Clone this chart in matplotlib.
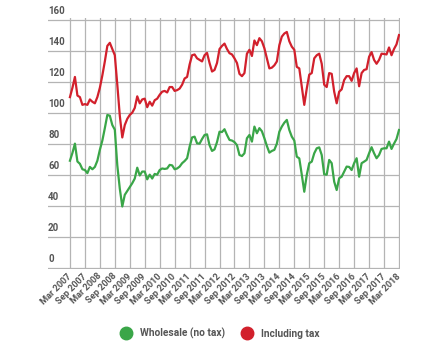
import numpy as np
import matplotlib.pyplot as plt
from matplotlib.lines import Line2D

plt.rcParams['font.family'] = ['Roboto', 'DejaVu Sans']

# monthly prices, Mar 2007 .. Mar 2018
including_tax = [110, 116, 123, 111, 110, 105, 105.5, 105, 108.5, 107, 106, 110,
                 116, 124, 133, 143, 145, 141, 137, 118, 98, 84, 92, 96,
                 98.5, 100, 103, 110.5, 106, 108.5, 109, 103.5, 107, 104.5, 108, 109,
                 111.5, 113.5, 114, 113, 116.5, 116.5, 114, 114.5, 115.5, 118, 122, 123,
                 131, 137, 137.5, 135, 134, 133, 137, 138.5, 132, 126.5, 127.5, 132,
                 141, 143, 144.5, 141, 138.3, 137.5, 135, 132, 125, 123.5, 125.5, 138,
                 140.5, 136.5, 146.5, 143.5, 148, 146, 141.5, 135, 128.5, 129, 130.5, 133,
                 143.5, 149, 151, 152, 146, 142.5, 140.5, 129.5, 128.5, 117, 105, 115.5,
                 124.5, 125.5, 135, 137, 138, 131.5, 118, 116.5, 125.5, 125, 113.5, 106,
                 113.5, 115, 121, 123.5, 123.5, 120.5, 125.5, 128.5, 117, 125.5, 127.5, 128,
                 136, 139, 134, 131.5, 134, 138, 137.8, 137.5, 142, 137, 141, 144, 150]

wholesale = [69, 74, 80, 68.5, 67, 63.5, 63, 61, 65, 63.5, 65, 69,
             76, 82, 90, 98.5, 98, 92, 89, 66, 51, 39.5, 47, 49.5,
             52, 54.5, 57.5, 64.5, 59.5, 62, 62, 57, 60, 57.5, 60.5, 60,
             63, 64, 63.7, 64, 66.3, 66, 63.5, 64, 65.2, 67.4, 68.8, 70.6,
             78, 84, 84.5, 80.2, 80, 83, 85.6, 86, 79, 75.3, 76.3, 81,
             87.7, 87.5, 89.3, 85.6, 82.4, 82, 81, 79, 72.7, 72, 73.8, 83.5,
             85.6, 81.3, 91, 86.7, 90, 88, 83.5, 78.5, 74.2, 75.3, 76, 80,
             87.7, 91, 93.5, 95.3, 88.8, 84.5, 82, 71.6, 70.5, 60, 49, 59.8,
             67.4, 68.4, 73.8, 77, 77.6, 72.7, 60.2, 60, 69.5, 67.4, 55.5, 50.1,
             57.7, 58.7, 62, 65.2, 65, 63, 67.4, 70.6, 58.7, 67.4, 68.4, 69.5,
             73.8, 77.7, 73.8, 70.6, 72.7, 76.6, 77, 77, 81.3, 76.6, 80, 83, 88.8]

tick_labels = ['Mar 2007', 'Sep 2007', 'Mar 2008', 'Sep 2008', 'Mar 2009', 'Sep 2009',
               'Mar 2010', 'Sep 2010', 'Mar 2011', 'Sep 2011', 'Mar 2012', 'Sep 2012',
               'Mar 2013', 'Sep 2013', 'Mar 2014', 'Sep 2014', 'Mar 2015', 'Sep 2015',
               'Mar 2016', 'Sep 2016', 'Mar 2017', 'Sep 2017', 'Mar 2018']
y_ticks = [0, 20, 40, 60, 80, 100, 120, 140, 160]

green = '#3aa648'
red = '#d2202c'
txt = '#555555'
grid = '#b4b4b4'

months = np.arange(len(including_tax))

fig = plt.figure(figsize=(4.44, 3.54), dpi=100)
ax = fig.add_axes([48 / 444, (354 - 269.3) / 354, 352 / 444, 251.3 / 354])

ax.plot(months, wholesale, color=green, lw=1.6)
ax.plot(months, including_tax, color=red, lw=1.6)

ax.set_xlim(-8.8, 132.4)
ax.set_ylim(-1, 161)
ax.set_xticks(np.arange(0, 133, 6))
ax.set_xticklabels(tick_labels, rotation=45, ha='right', va='center',
                   rotation_mode='anchor', fontsize=6.6, fontweight='bold', color=txt)
ax.set_yticks(y_ticks)
ax.set_yticklabels([])
ax.tick_params(length=0, pad=4)
ax.grid(True, color=grid, lw=0.9)
for s in ax.spines.values():
    s.set_visible(False)

for v in y_ticks:
    ax.text(0.0, v + 2.2, str(v), transform=ax.get_yaxis_transform(),
            ha='left', va='bottom', fontsize=7, fontweight='bold', color=txt)

handles = [Line2D([], [], ls='none', marker='o', ms=9, color=green),
           Line2D([], [], ls='none', marker='o', ms=9, color=red)]
fig.legend(handles, ['Wholesale (no tax)', 'Including tax'], loc='center',
           bbox_to_anchor=(0.49, 0.057), ncol=2, frameon=False,
           handletextpad=0.4, columnspacing=1.1, labelcolor=txt,
           prop={'weight': 'bold', 'size': 7.3})

fig.savefig('out.png', dpi=100)
